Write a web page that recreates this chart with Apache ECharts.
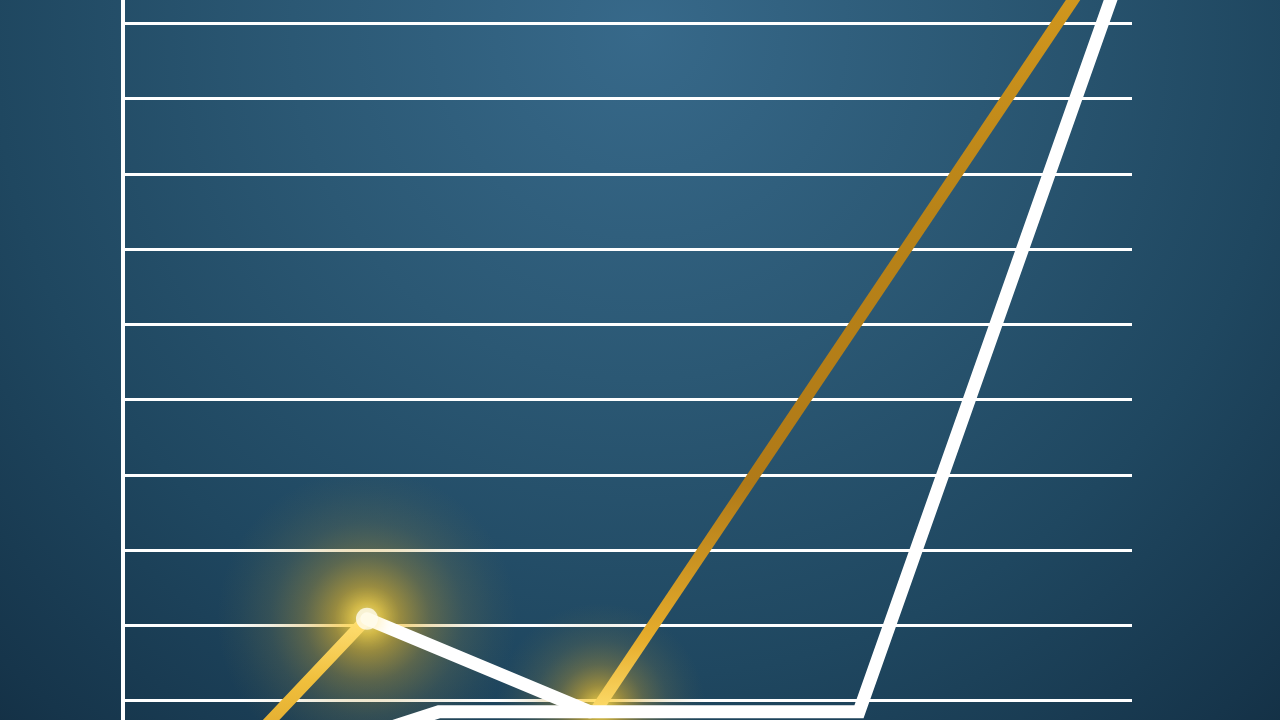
<!DOCTYPE html>
<html>
<head>
<meta charset="utf-8">
<style>
  html, body { margin: 0; padding: 0; width: 1280px; height: 720px; overflow: hidden; background: #173a52; }
  body { position: relative; }
  #chart { position: absolute; left: 0; top: -52px; width: 1280px; height: 828px; }
</style>
<script src="https://cdn.jsdelivr.net/npm/echarts@6/dist/echarts.min.js"></script>
</head>
<body>
<div id="chart"></div>
<script>
// ---- data (x: 0..100 time units, y: 0..11 levels) ----
const goldRise1 = [[9.42, 0.0], [24.18, 2.09]];
const whiteDrop = [[24.18, 2.09], [46.28, 0.853]];
const goldRise2 = [[46.78, 0.853], [97.62, 11.0]];
const whiteBase = [[23.98, 0.534], [31.3, 0.853], [72.94, 0.853], [99.70, 11.0]];
const peakPoint = [[24.18, 2.09]];
const glowPoints = [[24.18, 2.09, 300], [47.3, 0.9, 210]];
const yTicks = [0, 1, 2, 3, 4, 5, 6, 7, 8, 9, 10, 11];

const chart = echarts.init(document.getElementById('chart'), null, { renderer: 'canvas' });

const glowColor = {
  type: 'radial', x: 0.5, y: 0.5, r: 0.5,
  colorStops: [
    { offset: 0, color: 'rgba(255,240,150,1)' },
    { offset: 0.1, color: 'rgba(255,212,60,0.95)' },
    { offset: 0.22, color: 'rgba(240,188,40,0.72)' },
    { offset: 0.42, color: 'rgba(210,165,45,0.42)' },
    { offset: 0.65, color: 'rgba(175,148,60,0.2)' },
    { offset: 0.85, color: 'rgba(160,140,60,0.07)' },
    { offset: 1, color: 'rgba(150,130,60,0)' }
  ]
};

const option = {
  animation: false,
  backgroundColor: {
    type: 'radial', x: 0.5, y: 0.1, r: 1.2,
    colorStops: [
      { offset: 0, color: '#37698a' },
      { offset: 0.35, color: '#2b5874' },
      { offset: 0.65, color: '#1f4760' },
      { offset: 0.9, color: '#16354b' },
      { offset: 1, color: '#122d41' }
    ]
  },
  grid: { left: 123, right: 148, top: 0, bottom: 0, containLabel: false },
  xAxis: {
    type: 'value', min: 0, max: 100,
    axisLine: { show: false }, axisTick: { show: false },
    axisLabel: { show: false }, splitLine: { show: false }
  },
  yAxis: {
    type: 'value', min: yTicks[0], max: yTicks[yTicks.length - 1], interval: 1,
    axisLine: { show: true, lineStyle: { color: '#ffffff', width: 4 } },
    axisTick: { show: false }, axisLabel: { show: false },
    splitLine: { show: true, lineStyle: { color: '#ffffff', width: 3 } }
  },
  series: [
    {
      type: 'scatter', z: 1, silent: true,
      data: glowPoints,
      symbolSize: v => v[2],
      itemStyle: { color: glowColor }
    },
    {
      type: 'line', z: 3, silent: true, data: goldRise1, symbol: 'none',
      lineStyle: {
        width: 12, cap: 'round',
        color: { type: 'linear', x: 0, y: 1, x2: 0, y2: 0,
          colorStops: [{ offset: 0, color: '#d69c26' }, { offset: 0.6, color: '#f0bf3c' }, { offset: 1, color: '#ffe27a' }] }
      }
    },
    {
      type: 'line', z: 3, silent: true, data: goldRise2, symbol: 'none',
      lineStyle: {
        width: 12,
        color: { type: 'linear', x: 0, y: 1, x2: 0, y2: 0,
          colorStops: [
            { offset: 0, color: '#ffe070' },
            { offset: 0.1, color: '#e6ad2c' },
            { offset: 0.3, color: '#b07a18' },
            { offset: 0.65, color: '#b88318' },
            { offset: 1, color: '#d69b1f' }
          ] }
      }
    },
    {
      type: 'line', z: 4, silent: true, data: whiteDrop, symbol: 'none',
      lineStyle: { width: 13, color: '#ffffff', cap: 'round' }
    },
    {
      type: 'line', z: 4, silent: true, data: whiteBase, symbol: 'none',
      lineStyle: { width: 13, color: '#ffffff', join: 'miter' }
    },
    {
      type: 'scatter', z: 5, silent: true, data: peakPoint,
      symbol: 'circle', symbolSize: 22,
      itemStyle: { color: '#fffdf0', shadowBlur: 20, shadowColor: 'rgba(255,220,90,1)' }
    }
  ]
};
chart.setOption(option);
</script>
</body>
</html>
